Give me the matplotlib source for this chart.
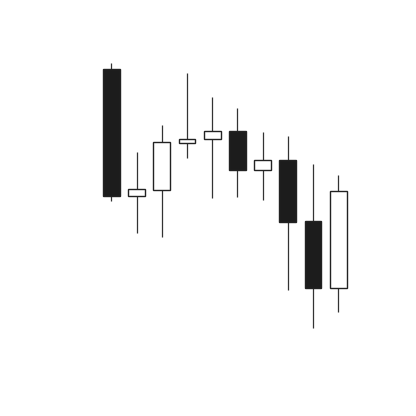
import matplotlib
matplotlib.use("Agg")
import matplotlib.pyplot as plt
from matplotlib.patches import Rectangle

opens  = [347, 220, 226.3, 273.3, 276.7, 284.7, 245.7, 256.3, 194.7, 127.7]
closes = [220.3, 226.7, 273.7, 277, 284.7, 245.7, 256, 194.3, 127.7, 224.7]
highs  = [352.7, 263.7, 291.3, 342.7, 319, 307.7, 284.3, 280, 251.7, 241.3]
lows   = [215, 183.3, 179.3, 258, 218.3, 219, 215.7, 126, 88.3, 104.3]

fig = plt.figure(figsize=(4.16, 4.16), dpi=100)
ax = fig.add_axes([0, 0, 1, 1])
ax.set_xlim(-111.4 / 25.2, (416 - 111.4) / 25.2)
ax.set_ylim(0, 416)
ax.axis("off")

w = 0.66
for i, (o, c, h, l) in enumerate(zip(opens, closes, highs, lows)):
    ax.vlines(i, l, h, color="#333333", linewidth=0.9, zorder=1)
    bottom = min(o, c)
    height = abs(c - o)
    face = "#1c1c1c" if c < o else "white"
    ax.add_patch(Rectangle((i - w / 2, bottom), w, height, facecolor=face,
                           edgecolor="#222222", linewidth=1.0, zorder=2))

fig.savefig("out.png", dpi=100)
